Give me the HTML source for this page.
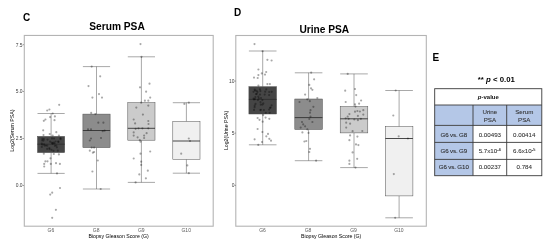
<!DOCTYPE html>
<html><head><meta charset="utf-8"><title>PSA boxplots</title>
<style>html,body{margin:0;padding:0;background:#fff}svg{display:block}</style></head>
<body>
<svg width="550" height="246" viewBox="0 0 550 246" font-family='"Liberation Sans", Arial, sans-serif'>
<rect width="550" height="246" fill="#fff"/>
<g font-weight="bold" fill="#000">
<text x="23" y="20.6" font-size="10">C</text>
<text x="234" y="15.6" font-size="10">D</text>
<text x="432.5" y="60.9" font-size="10">E</text>
<text x="117" y="30.1" font-size="10.2" text-anchor="middle">Serum PSA</text>
<text x="324.3" y="33.4" font-size="10.2" text-anchor="middle">Urine PSA</text>
</g>
<rect x="24.3" y="35.45" width="188.89999999999998" height="190.75" fill="none" stroke="#b4b4b4" stroke-width="1.1"/>
<rect x="235.8" y="35.5" width="190.5" height="190.7" fill="none" stroke="#b4b4b4" stroke-width="1.1"/>
<g font-size="4.9" fill="#3c3c3c" text-anchor="end">
<text x="22.5" y="46.5">7.5</text>
<text x="22.5" y="93.3">5.0</text>
<text x="22.5" y="140.3">2.5</text>
<text x="22.5" y="187.3">0.0</text>
<text x="234.4" y="82.89999999999999">10</text>
<text x="234.4" y="134.9">5</text>
<text x="234.4" y="187.20000000000002">0</text>
</g>
<g stroke="#666" stroke-width="0.6">
<line x1="22.6" y1="44.7" x2="24" y2="44.7"/>
<line x1="22.6" y1="91.5" x2="24" y2="91.5"/>
<line x1="22.6" y1="138.5" x2="24" y2="138.5"/>
<line x1="22.6" y1="185.5" x2="24" y2="185.5"/>
<line x1="234.6" y1="81.1" x2="236" y2="81.1"/>
<line x1="234.6" y1="133.1" x2="236" y2="133.1"/>
<line x1="234.6" y1="185.4" x2="236" y2="185.4"/>
</g>
<g font-size="5" fill="#5a5a5a" text-anchor="middle">
<text x="50.9" y="231.9">G6</text>
<text x="96.2" y="231.9">G8</text>
<text x="141.3" y="231.9">G9</text>
<text x="186.2" y="231.9">G10</text>
<text x="262.5" y="231.9">G6</text>
<text x="308" y="231.9">G8</text>
<text x="353.5" y="231.9">G9</text>
<text x="398.9" y="231.9">G10</text>
</g>
<g font-size="5.2" fill="#000" text-anchor="middle">
<text x="118.6" y="237.8">Biopsy Gleason Score (G)</text>
<text x="331.2" y="238.1">Biopsy Gleason Score (G)</text>
<text transform="translate(13.8,130.6) rotate(-90)">Log2(Serum PSA)</text>
<text transform="translate(227.6,130.5) rotate(-90)">Log2(Urine PSA)</text>
</g>
<g stroke="#4a4a4a" stroke-width="0.48" fill="none"><line x1="51.1" y1="113.5" x2="51.1" y2="136.4"/><line x1="51.1" y1="152.6" x2="51.1" y2="173.4"/><line x1="37.5" y1="113.5" x2="64.7" y2="113.5"/><line x1="37.5" y1="173.4" x2="64.7" y2="173.4"/><rect x="37.5" y="136.4" width="27.200000000000003" height="16.19999999999999" fill="#454545"/><line x1="37.5" y1="144.2" x2="64.7" y2="144.2" stroke-width="0.864" stroke="#2e2e2e"/></g>
<g stroke="#4a4a4a" stroke-width="0.48" fill="none"><line x1="96.5" y1="66.6" x2="96.5" y2="114.1"/><line x1="96.5" y1="147.6" x2="96.5" y2="189"/><line x1="82.9" y1="66.6" x2="110.1" y2="66.6"/><line x1="82.9" y1="189" x2="110.1" y2="189"/><rect x="82.9" y="114.1" width="27.19999999999999" height="33.5" fill="#8c8c8c"/><line x1="82.9" y1="130.5" x2="110.1" y2="130.5" stroke-width="0.864" stroke="#2e2e2e"/></g>
<g stroke="#4a4a4a" stroke-width="0.48" fill="none"><line x1="141.4" y1="56.8" x2="141.4" y2="102.7"/><line x1="141.4" y1="140.2" x2="141.4" y2="182.4"/><line x1="127.80000000000001" y1="56.8" x2="155.0" y2="56.8"/><line x1="127.80000000000001" y1="182.4" x2="155.0" y2="182.4"/><rect x="127.80000000000001" y="102.7" width="27.19999999999999" height="37.499999999999986" fill="#cbcbcb"/><line x1="127.80000000000001" y1="128.3" x2="155.0" y2="128.3" stroke-width="0.864" stroke="#2e2e2e"/></g>
<g stroke="#4a4a4a" stroke-width="0.48" fill="none"><line x1="186.4" y1="102.7" x2="186.4" y2="121.5"/><line x1="186.4" y1="159.3" x2="186.4" y2="173.2"/><line x1="172.8" y1="102.7" x2="200.0" y2="102.7"/><line x1="172.8" y1="173.2" x2="200.0" y2="173.2"/><rect x="172.8" y="121.5" width="27.19999999999999" height="37.80000000000001" fill="#f0f0f0"/><line x1="172.8" y1="141" x2="200.0" y2="141" stroke-width="0.864" stroke="#2e2e2e"/></g>
<g stroke="#4a4a4a" stroke-width="0.48" fill="none"><line x1="262.7" y1="51" x2="262.7" y2="86.7"/><line x1="262.7" y1="114" x2="262.7" y2="144.8"/><line x1="248.89999999999998" y1="51" x2="276.5" y2="51"/><line x1="248.89999999999998" y1="144.8" x2="276.5" y2="144.8"/><rect x="248.89999999999998" y="86.7" width="27.600000000000023" height="27.299999999999997" fill="#454545"/><line x1="248.89999999999998" y1="99.4" x2="276.5" y2="99.4" stroke-width="0.864" stroke="#2e2e2e"/></g>
<g stroke="#4a4a4a" stroke-width="0.48" fill="none"><line x1="308.6" y1="72.8" x2="308.6" y2="99"/><line x1="308.6" y1="129.5" x2="308.6" y2="160.7"/><line x1="294.8" y1="72.8" x2="322.40000000000003" y2="72.8"/><line x1="294.8" y1="160.7" x2="322.40000000000003" y2="160.7"/><rect x="294.8" y="99" width="27.600000000000023" height="30.5" fill="#8c8c8c"/><line x1="294.8" y1="117.6" x2="322.40000000000003" y2="117.6" stroke-width="0.864" stroke="#2e2e2e"/></g>
<g stroke="#4a4a4a" stroke-width="0.48" fill="none"><line x1="354" y1="73.9" x2="354" y2="106.6"/><line x1="354" y1="132.9" x2="354" y2="167.6"/><line x1="340.2" y1="73.9" x2="367.8" y2="73.9"/><line x1="340.2" y1="167.6" x2="367.8" y2="167.6"/><rect x="340.2" y="106.6" width="27.600000000000023" height="26.30000000000001" fill="#cbcbcb"/><line x1="340.2" y1="118.8" x2="367.8" y2="118.8" stroke-width="0.864" stroke="#2e2e2e"/></g>
<g stroke="#4a4a4a" stroke-width="0.48" fill="none"><line x1="399.1" y1="90.5" x2="399.1" y2="126.6"/><line x1="399.1" y1="195.9" x2="399.1" y2="217.8"/><line x1="385.3" y1="90.5" x2="412.90000000000003" y2="90.5"/><line x1="385.3" y1="217.8" x2="412.90000000000003" y2="217.8"/><rect x="385.3" y="126.6" width="27.600000000000023" height="69.30000000000001" fill="#f0f0f0"/><line x1="385.3" y1="138.5" x2="412.90000000000003" y2="138.5" stroke-width="0.864" stroke="#2e2e2e"/></g>
<g fill="#000" fill-opacity="0.34">
<circle cx="59.2" cy="104.8" r="1.08"/><circle cx="49.4" cy="109.5" r="1.08"/><circle cx="47.2" cy="110.5" r="1.08"/><circle cx="52.7" cy="113.5" r="1.08"/><circle cx="50.1" cy="117.1" r="1.08"/><circle cx="54.9" cy="116.4" r="1.08"/><circle cx="45.4" cy="119.5" r="1.08"/><circle cx="43.8" cy="120.8" r="1.08"/><circle cx="54.5" cy="120.2" r="1.08"/><circle cx="43.2" cy="130.3" r="1.08"/><circle cx="56.3" cy="132.2" r="1.08"/><circle cx="49.7" cy="134.0" r="1.08"/><circle cx="43.5" cy="135.1" r="1.08"/><circle cx="52.7" cy="135.5" r="1.08"/><circle cx="58.9" cy="135.5" r="1.08"/><circle cx="43.8" cy="153.7" r="1.08"/><circle cx="53.8" cy="154.0" r="1.08"/><circle cx="58.9" cy="154.4" r="1.08"/><circle cx="50.5" cy="158.3" r="1.08"/><circle cx="45.4" cy="161.3" r="1.08"/><circle cx="47.5" cy="161.3" r="1.08"/><circle cx="50.8" cy="163.9" r="1.08"/><circle cx="56.0" cy="163.2" r="1.08"/><circle cx="59.9" cy="163.9" r="1.08"/><circle cx="44.2" cy="163.9" r="1.08"/><circle cx="44.2" cy="166.5" r="1.08"/><circle cx="57.0" cy="173.4" r="1.08"/><circle cx="60.0" cy="188.0" r="1.08"/><circle cx="52.2" cy="192.7" r="1.08"/><circle cx="50.2" cy="194.6" r="1.08"/><circle cx="55.9" cy="209.8" r="1.08"/><circle cx="52.2" cy="217.8" r="1.08"/>
<circle cx="47.5" cy="139.6" r="1.08"/><circle cx="54.0" cy="138.5" r="1.08"/><circle cx="51.7" cy="142.6" r="1.08"/><circle cx="42.2" cy="144.6" r="1.08"/><circle cx="41.7" cy="143.6" r="1.08"/><circle cx="42.4" cy="138.8" r="1.08"/><circle cx="49.5" cy="149.1" r="1.08"/><circle cx="43.5" cy="140.6" r="1.08"/><circle cx="53.5" cy="150.8" r="1.08"/><circle cx="52.5" cy="143.1" r="1.08"/><circle cx="60.5" cy="138.2" r="1.08"/><circle cx="58.2" cy="141.6" r="1.08"/><circle cx="43.9" cy="139.1" r="1.08"/><circle cx="47.2" cy="148.9" r="1.08"/><circle cx="44.6" cy="145.6" r="1.08"/><circle cx="53.8" cy="142.7" r="1.08"/><circle cx="52.0" cy="138.4" r="1.08"/><circle cx="42.2" cy="140.4" r="1.08"/><circle cx="54.6" cy="143.5" r="1.08"/><circle cx="47.3" cy="145.7" r="1.08"/><circle cx="50.1" cy="141.7" r="1.08"/><circle cx="56.9" cy="147.3" r="1.08"/><circle cx="45.9" cy="145.5" r="1.08"/><circle cx="51.5" cy="149.8" r="1.08"/><circle cx="55.6" cy="141.5" r="1.08"/><circle cx="60.6" cy="139.2" r="1.08"/><circle cx="49.4" cy="148.1" r="1.08"/><circle cx="44.0" cy="144.3" r="1.08"/><circle cx="41.8" cy="146.9" r="1.08"/><circle cx="56.3" cy="145.5" r="1.08"/><circle cx="58.5" cy="141.9" r="1.08"/><circle cx="54.9" cy="145.8" r="1.08"/><circle cx="52.6" cy="143.9" r="1.08"/><circle cx="57.8" cy="150.7" r="1.08"/>
<circle cx="91.7" cy="66.6" r="1.08"/><circle cx="100.2" cy="76.3" r="1.08"/><circle cx="88.5" cy="86.1" r="1.08"/><circle cx="99.0" cy="94.1" r="1.08"/><circle cx="92.4" cy="97.6" r="1.08"/><circle cx="102.0" cy="97.6" r="1.08"/><circle cx="91.2" cy="112.9" r="1.08"/><circle cx="95.4" cy="114.1" r="1.08"/><circle cx="98.3" cy="122.7" r="1.08"/><circle cx="103.4" cy="122.7" r="1.08"/><circle cx="88.0" cy="129.3" r="1.08"/><circle cx="91.0" cy="129.3" r="1.08"/><circle cx="102.7" cy="131.2" r="1.08"/><circle cx="104.6" cy="130.7" r="1.08"/><circle cx="91.0" cy="138.5" r="1.08"/><circle cx="89.8" cy="140.5" r="1.08"/><circle cx="101.0" cy="138.0" r="1.08"/><circle cx="91.7" cy="147.6" r="1.08"/><circle cx="94.1" cy="147.6" r="1.08"/><circle cx="89.8" cy="150.7" r="1.08"/><circle cx="92.9" cy="152.7" r="1.08"/><circle cx="94.1" cy="152.0" r="1.08"/><circle cx="97.8" cy="160.5" r="1.08"/><circle cx="92.4" cy="171.5" r="1.08"/><circle cx="100.7" cy="189.0" r="1.08"/>
<circle cx="140.5" cy="44.1" r="1.08"/><circle cx="141.5" cy="56.8" r="1.08"/><circle cx="149.5" cy="83.7" r="1.08"/><circle cx="140.0" cy="87.3" r="1.08"/><circle cx="146.1" cy="91.7" r="1.08"/><circle cx="150.2" cy="97.6" r="1.08"/><circle cx="144.9" cy="100.7" r="1.08"/><circle cx="148.3" cy="100.7" r="1.08"/><circle cx="141.2" cy="102.7" r="1.08"/><circle cx="148.3" cy="105.6" r="1.08"/><circle cx="136.3" cy="107.6" r="1.08"/><circle cx="142.9" cy="114.6" r="1.08"/><circle cx="133.7" cy="119.5" r="1.08"/><circle cx="148.3" cy="121.0" r="1.08"/><circle cx="135.1" cy="123.4" r="1.08"/><circle cx="148.5" cy="124.0" r="1.08"/><circle cx="135.6" cy="128.8" r="1.08"/><circle cx="138.5" cy="128.3" r="1.08"/><circle cx="142.4" cy="128.3" r="1.08"/><circle cx="148.3" cy="128.3" r="1.08"/><circle cx="133.7" cy="132.4" r="1.08"/><circle cx="146.6" cy="133.2" r="1.08"/><circle cx="133.7" cy="135.6" r="1.08"/><circle cx="144.1" cy="135.6" r="1.08"/><circle cx="137.6" cy="137.3" r="1.08"/><circle cx="144.1" cy="138.0" r="1.08"/><circle cx="139.8" cy="140.2" r="1.08"/><circle cx="140.5" cy="141.7" r="1.08"/><circle cx="150.2" cy="151.5" r="1.08"/><circle cx="140.5" cy="153.7" r="1.08"/><circle cx="133.7" cy="158.5" r="1.08"/><circle cx="141.2" cy="161.7" r="1.08"/><circle cx="141.2" cy="164.9" r="1.08"/><circle cx="147.8" cy="170.7" r="1.08"/><circle cx="139.3" cy="174.4" r="1.08"/><circle cx="145.9" cy="178.3" r="1.08"/><circle cx="135.6" cy="182.4" r="1.08"/>
<circle cx="188.8" cy="102.7" r="1.08"/><circle cx="184.4" cy="103.9" r="1.08"/><circle cx="188.8" cy="138.5" r="1.08"/><circle cx="190.0" cy="141.0" r="1.08"/><circle cx="181.2" cy="153.7" r="1.08"/><circle cx="187.3" cy="165.4" r="1.08"/><circle cx="188.8" cy="173.2" r="1.08"/>
<circle cx="254.5" cy="44.1" r="1.08"/><circle cx="262.6" cy="51.2" r="1.08"/><circle cx="267.4" cy="59.8" r="1.08"/><circle cx="271.6" cy="60.5" r="1.08"/><circle cx="258.4" cy="69.5" r="1.08"/><circle cx="266.2" cy="72.0" r="1.08"/><circle cx="261.8" cy="73.4" r="1.08"/><circle cx="265.0" cy="74.6" r="1.08"/><circle cx="258.4" cy="75.1" r="1.08"/><circle cx="254.0" cy="77.6" r="1.08"/><circle cx="257.7" cy="78.0" r="1.08"/><circle cx="267.4" cy="84.1" r="1.08"/><circle cx="269.9" cy="84.1" r="1.08"/><circle cx="258.4" cy="85.6" r="1.08"/><circle cx="263.2" cy="115.1" r="1.08"/><circle cx="257.6" cy="118.0" r="1.08"/><circle cx="259.5" cy="119.8" r="1.08"/><circle cx="265.6" cy="117.6" r="1.08"/><circle cx="269.3" cy="118.8" r="1.08"/><circle cx="262.7" cy="121.7" r="1.08"/><circle cx="257.6" cy="129.0" r="1.08"/><circle cx="262.4" cy="132.0" r="1.08"/><circle cx="268.0" cy="133.9" r="1.08"/><circle cx="266.3" cy="136.3" r="1.08"/><circle cx="254.6" cy="139.3" r="1.08"/><circle cx="269.3" cy="138.8" r="1.08"/><circle cx="271.0" cy="140.7" r="1.08"/><circle cx="262.0" cy="142.0" r="1.08"/><circle cx="258.3" cy="144.9" r="1.08"/>
<circle cx="262.5" cy="104.6" r="1.08"/><circle cx="254.7" cy="105.5" r="1.08"/><circle cx="265.8" cy="112.8" r="1.08"/><circle cx="269.1" cy="95.1" r="1.08"/><circle cx="260.8" cy="104.7" r="1.08"/><circle cx="253.9" cy="99.5" r="1.08"/><circle cx="256.7" cy="90.9" r="1.08"/><circle cx="254.6" cy="107.2" r="1.08"/><circle cx="256.0" cy="94.2" r="1.08"/><circle cx="260.9" cy="109.8" r="1.08"/><circle cx="255.0" cy="99.2" r="1.08"/><circle cx="263.9" cy="110.1" r="1.08"/><circle cx="269.1" cy="109.6" r="1.08"/><circle cx="258.8" cy="98.4" r="1.08"/><circle cx="260.3" cy="110.1" r="1.08"/><circle cx="271.7" cy="91.8" r="1.08"/><circle cx="256.8" cy="93.8" r="1.08"/><circle cx="257.9" cy="100.1" r="1.08"/><circle cx="264.7" cy="94.6" r="1.08"/><circle cx="253.6" cy="98.5" r="1.08"/><circle cx="260.5" cy="102.2" r="1.08"/><circle cx="271.6" cy="105.3" r="1.08"/><circle cx="263.3" cy="103.4" r="1.08"/><circle cx="266.3" cy="89.3" r="1.08"/><circle cx="270.6" cy="107.5" r="1.08"/><circle cx="270.1" cy="107.9" r="1.08"/><circle cx="261.0" cy="98.0" r="1.08"/><circle cx="255.5" cy="103.9" r="1.08"/><circle cx="254.7" cy="89.7" r="1.08"/><circle cx="257.5" cy="92.1" r="1.08"/><circle cx="260.0" cy="89.3" r="1.08"/><circle cx="253.5" cy="91.8" r="1.08"/><circle cx="255.4" cy="97.1" r="1.08"/><circle cx="254.0" cy="109.9" r="1.08"/><circle cx="265.2" cy="91.7" r="1.08"/><circle cx="258.3" cy="96.7" r="1.08"/><circle cx="260.4" cy="91.1" r="1.08"/><circle cx="269.6" cy="112.8" r="1.08"/><circle cx="262.4" cy="100.1" r="1.08"/><circle cx="255.1" cy="90.6" r="1.08"/><circle cx="260.0" cy="94.6" r="1.08"/><circle cx="269.2" cy="92.0" r="1.08"/>
<circle cx="311.2" cy="72.7" r="1.08"/><circle cx="314.1" cy="79.3" r="1.08"/><circle cx="309.3" cy="84.9" r="1.08"/><circle cx="311.0" cy="88.3" r="1.08"/><circle cx="312.4" cy="89.8" r="1.08"/><circle cx="305.1" cy="94.6" r="1.08"/><circle cx="317.3" cy="98.0" r="1.08"/><circle cx="307.3" cy="99.3" r="1.08"/><circle cx="309.8" cy="101.2" r="1.08"/><circle cx="299.5" cy="102.0" r="1.08"/><circle cx="313.4" cy="106.8" r="1.08"/><circle cx="310.5" cy="110.2" r="1.08"/><circle cx="310.0" cy="112.7" r="1.08"/><circle cx="310.5" cy="116.6" r="1.08"/><circle cx="309.3" cy="119.0" r="1.08"/><circle cx="312.4" cy="122.0" r="1.08"/><circle cx="302.0" cy="122.0" r="1.08"/><circle cx="303.2" cy="124.4" r="1.08"/><circle cx="305.1" cy="126.3" r="1.08"/><circle cx="300.7" cy="127.6" r="1.08"/><circle cx="307.3" cy="129.3" r="1.08"/><circle cx="302.4" cy="132.4" r="1.08"/><circle cx="308.5" cy="132.9" r="1.08"/><circle cx="304.4" cy="141.5" r="1.08"/><circle cx="306.3" cy="141.0" r="1.08"/><circle cx="310.0" cy="148.8" r="1.08"/><circle cx="309.3" cy="152.0" r="1.08"/><circle cx="316.1" cy="160.7" r="1.08"/>
<circle cx="347.7" cy="73.9" r="1.08"/><circle cx="355.0" cy="89.0" r="1.08"/><circle cx="345.2" cy="90.7" r="1.08"/><circle cx="356.2" cy="95.1" r="1.08"/><circle cx="361.1" cy="100.5" r="1.08"/><circle cx="345.7" cy="102.0" r="1.08"/><circle cx="359.1" cy="103.7" r="1.08"/><circle cx="355.5" cy="106.6" r="1.08"/><circle cx="355.0" cy="104.4" r="1.08"/><circle cx="357.4" cy="111.0" r="1.08"/><circle cx="359.9" cy="111.5" r="1.08"/><circle cx="363.3" cy="110.2" r="1.08"/><circle cx="355.0" cy="111.7" r="1.08"/><circle cx="349.4" cy="114.1" r="1.08"/><circle cx="357.9" cy="115.9" r="1.08"/><circle cx="363.3" cy="114.6" r="1.08"/><circle cx="347.7" cy="116.6" r="1.08"/><circle cx="345.7" cy="118.3" r="1.08"/><circle cx="348.7" cy="118.8" r="1.08"/><circle cx="354.3" cy="119.5" r="1.08"/><circle cx="357.9" cy="120.2" r="1.08"/><circle cx="360.9" cy="118.8" r="1.08"/><circle cx="346.2" cy="122.7" r="1.08"/><circle cx="350.1" cy="123.7" r="1.08"/><circle cx="346.2" cy="127.6" r="1.08"/><circle cx="352.6" cy="131.2" r="1.08"/><circle cx="362.3" cy="131.0" r="1.08"/><circle cx="350.1" cy="135.4" r="1.08"/><circle cx="357.4" cy="136.6" r="1.08"/><circle cx="349.4" cy="140.2" r="1.08"/><circle cx="356.0" cy="144.4" r="1.08"/><circle cx="358.4" cy="145.1" r="1.08"/><circle cx="352.6" cy="152.4" r="1.08"/><circle cx="357.2" cy="158.8" r="1.08"/><circle cx="349.4" cy="160.7" r="1.08"/><circle cx="349.4" cy="163.9" r="1.08"/><circle cx="355.5" cy="167.6" r="1.08"/>
<circle cx="395.7" cy="90.5" r="1.08"/><circle cx="393.3" cy="115.5" r="1.08"/><circle cx="398.7" cy="136.3" r="1.08"/><circle cx="407.9" cy="138.5" r="1.08"/><circle cx="393.8" cy="174.1" r="1.08"/><circle cx="395.2" cy="217.8" r="1.08"/>
</g>
<text x="496.3" y="82.3" font-size="7.8" font-weight="bold" text-anchor="middle" fill="#000">** <tspan font-style="italic">p</tspan> &lt; 0.01</text>
<rect x="434.7" y="105" width="107.09999999999997" height="20.400000000000006" fill="#b4c7e7"/>
<rect x="434.7" y="125.4" width="38.30000000000001" height="50.29999999999998" fill="#b4c7e7"/>
<g stroke="#3a3a3a" stroke-width="0.9" fill="none">
<rect x="434.7" y="88.7" width="107.09999999999997" height="86.99999999999999"/>
<line x1="434.7" y1="105" x2="541.8" y2="105"/>
<line x1="434.7" y1="125.4" x2="541.8" y2="125.4"/>
<line x1="434.7" y1="142.4" x2="541.8" y2="142.4"/>
<line x1="434.7" y1="159.4" x2="541.8" y2="159.4"/>
<line x1="473" y1="105" x2="473" y2="175.7"/>
<line x1="506.7" y1="105" x2="506.7" y2="175.7"/>
</g>
<text x="488.3" y="99" font-size="6" font-weight="bold" text-anchor="middle" fill="#111"><tspan font-style="italic">p</tspan>-value</text>
<g font-size="6.2" text-anchor="middle" fill="#333" stroke="#333" stroke-width="0.08">
<text x="489.85" y="114.2">Urine</text><text x="489.85" y="122.1">PSA</text>
<text x="524.25" y="114.2">Serum</text><text x="524.25" y="122.1">PSA</text>
<g fill="#262626" word-spacing="-0.6"><text x="453.85" y="136.5">G6 vs. G8</text><text x="453.85" y="153.3">G6 vs. G9</text><text x="453.85" y="169.4">G6 vs. G10</text></g>
<text x="489.85" y="136.5">0.00493</text><text x="524.25" y="136.5">0.00414</text>
<text x="489.85" y="153.3">5.7x10<tspan font-size="4.3" dy="-2.1">-6</tspan></text><text x="524.25" y="153.3">6.6x10<tspan font-size="4.3" dy="-2.1">-5</tspan></text>
<text x="489.85" y="169.4">0.00237</text><text x="524.25" y="169.4">0.784</text>
</g>
</svg>
</body></html>
